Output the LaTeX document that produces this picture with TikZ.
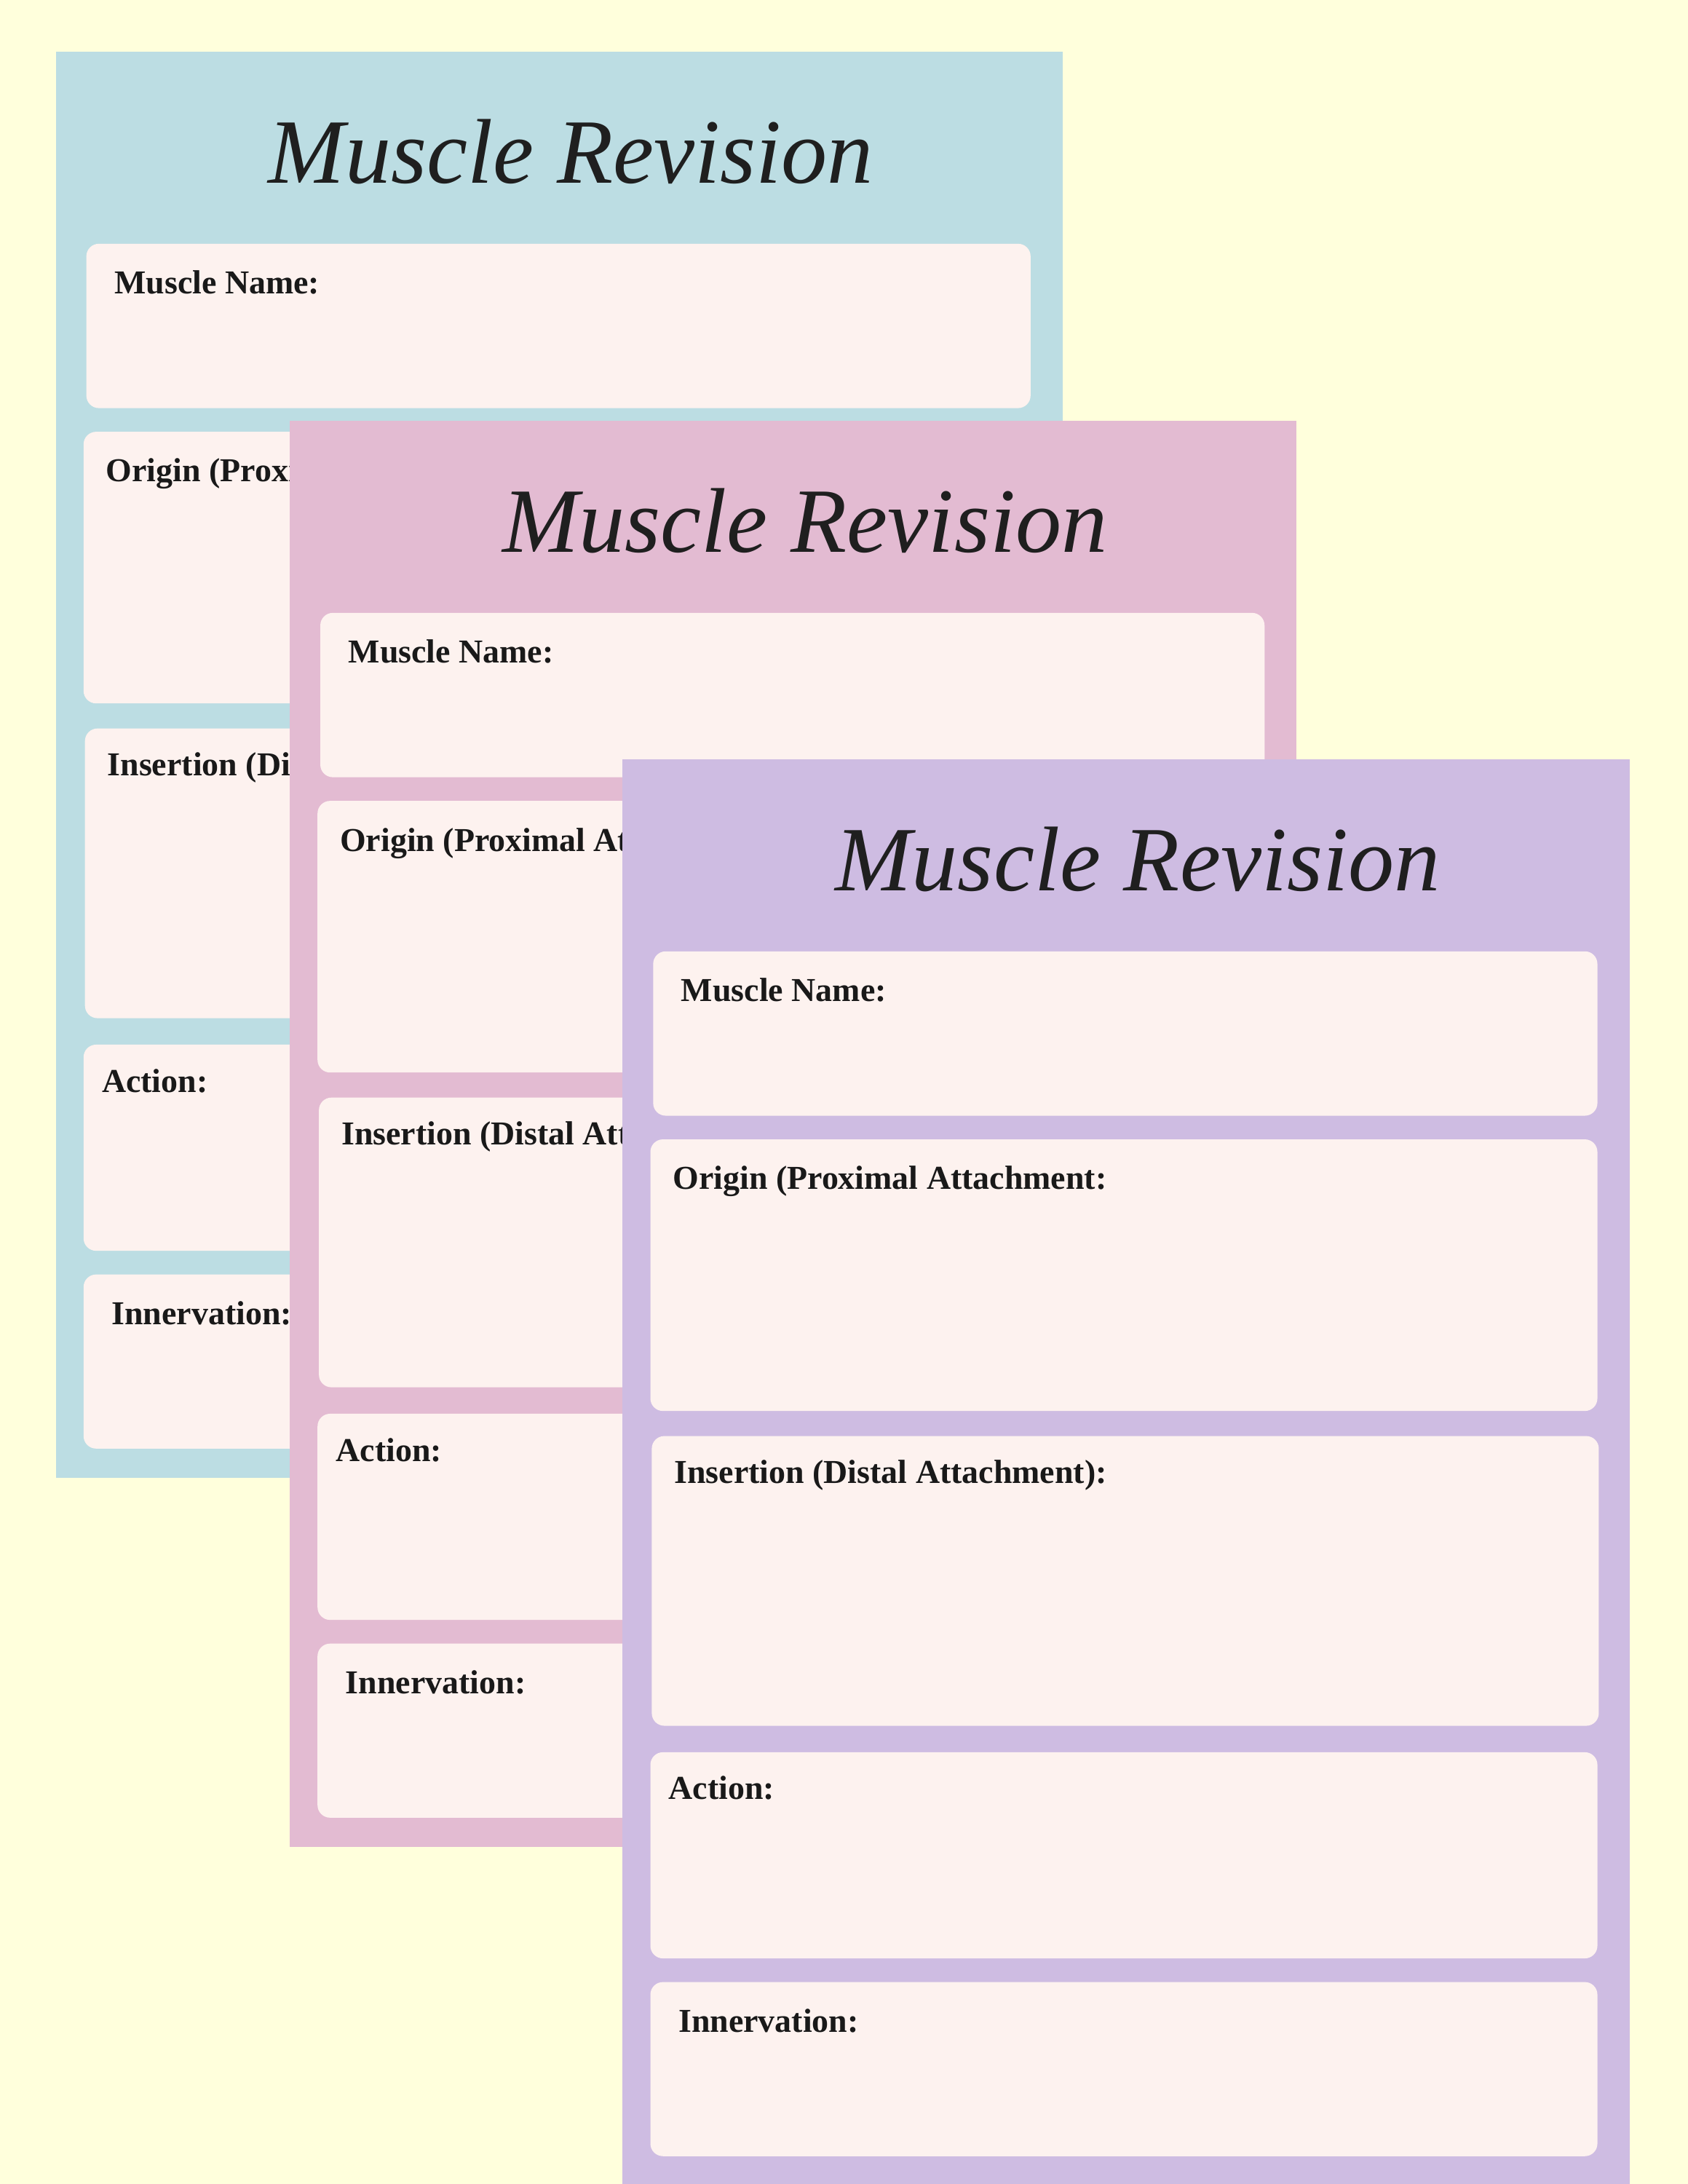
\documentclass[tikz,border=0pt]{standalone}
\usepackage{fontspec}
\setmainfont{Liberation Serif}
\definecolor{bgc}{HTML}{FFFFDC}
\definecolor{cblue}{HTML}{BCDDE3}
\definecolor{cpink}{HTML}{E3BBD2}
\definecolor{cpurp}{HTML}{CEBCE2}
\definecolor{boxc}{HTML}{FDF2EF}
\tikzset{
  fieldbox/.style={fill=boxc, rounded corners=9pt},
  fieldlbl/.style={anchor=base west, inner sep=0pt, font=\fontsize{24}{28}\selectfont\bfseries, text=black!90},
  titlelbl/.style={inner sep=0pt, font=\fontsize{66}{72}\selectfont\itshape, text=black!88}
}
\newcommand{\mycard}[4]{%
  \begin{scope}[shift={(#1,#2)}]
    \fill[#3] (0,0) rectangle (723,-1024);
    \node[titlelbl] (#4t) at (370,-72) {Muscle Revision};
    \fill[fieldbox] (22,-138) rectangle (700,-256);
    \node[fieldlbl] (#4a) at (42,-174) {Muscle Name:};
    \fill[fieldbox] (20,-273) rectangle (700,-468);
    \node[fieldlbl] (#4b) at (36,-309) {Origin (Proximal Attachment:};
    \fill[fieldbox] (21,-486) rectangle (701,-694);
    \node[fieldlbl] (#4c) at (37,-520) {Insertion (Distal Attachment):};
    \fill[fieldbox] (20,-713) rectangle (700,-861);
    \node[fieldlbl] (#4d) at (33,-747) {Action:};
    \fill[fieldbox] (20,-878) rectangle (700,-1003);
    \node[fieldlbl] (#4e) at (40,-914) {Innervation:};
  \end{scope}}
\begin{document}
\begin{tikzpicture}[x=1pt,y=1pt]
\useasboundingbox (0,0) rectangle (1212,-1568);
\clip (0,0) rectangle (1212,-1568);
\fill[bgc] (0,0) rectangle (1212,-1568);
\mycard{40}{-37}{cblue}{b}
\mycard{208}{-302}{cpink}{p}
\mycard{447}{-545}{cpurp}{v}
\end{tikzpicture}
\end{document}
